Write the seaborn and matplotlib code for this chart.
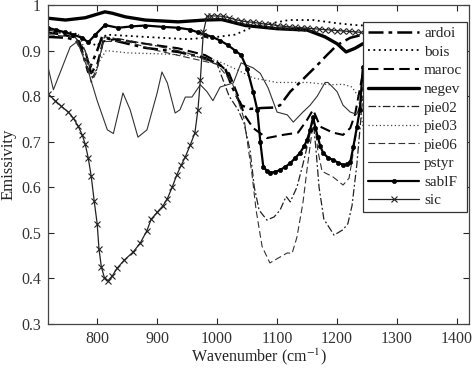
import numpy as np
import pandas as pd
import seaborn as sns
import matplotlib.pyplot as plt

# Spectra (wavenumber in cm-1, emissivity)
ardoi_x = [718, 750, 770, 785, 800, 808, 835, 880, 935, 980, 1013, 1025, 1040, 1055, 1075, 1095, 1105,
           1122, 1138, 1150, 1167, 1183, 1200, 1222, 1243]
ardoi_y = [0.93, 0.928, 0.92, 0.853, 0.90, 0.93, 0.92, 0.906, 0.897, 0.884, 0.862, 0.82, 0.78, 0.772,
           0.774, 0.775, 0.78, 0.81, 0.83, 0.846, 0.868, 0.89, 0.912, 0.928, 0.935]

bois_x = [718, 760, 785, 800, 815, 880, 950, 1000, 1030, 1060, 1090, 1120, 1160, 1200, 1230, 1245]
bois_y = [0.94, 0.94, 0.92, 0.91, 0.935, 0.93, 0.925, 0.93, 0.935, 0.952, 0.96, 0.967, 0.967, 0.96,
          0.956, 0.955]

maroc_x = [718, 760, 780, 790, 800, 810, 830, 880, 935, 980, 1000, 1020, 1035, 1045, 1060, 1083, 1110,
           1135, 1150, 1160, 1172, 1193, 1210, 1222, 1230, 1243]
maroc_y = [0.94, 0.93, 0.90, 0.85, 0.87, 0.92, 0.925, 0.915, 0.905, 0.89, 0.875, 0.85, 0.80, 0.76,
           0.73, 0.708, 0.715, 0.72, 0.748, 0.77, 0.733, 0.72, 0.715, 0.73, 0.76, 0.85]

negev_x = [718, 747, 780, 813, 825, 847, 880, 935, 980, 1008, 1047, 1100, 1150, 1180, 1200, 1215,
           1230, 1243]
negev_y = [0.971, 0.967, 0.972, 0.985, 0.982, 0.974, 0.967, 0.963, 0.967, 0.968, 0.955, 0.948, 0.945,
           0.93, 0.915, 0.897, 0.905, 0.915]

pie02_x = [718, 760, 780, 792, 800, 812, 840, 900, 950, 1000, 1020, 1035, 1045, 1055, 1062, 1070, 1083,
           1095, 1105, 1115, 1122, 1133, 1143, 1152, 1160, 1165, 1170, 1178, 1195, 1210, 1218, 1225,
           1233, 1243]
pie02_y = [0.945, 0.935, 0.90, 0.84, 0.86, 0.93, 0.925, 0.91, 0.895, 0.87, 0.80, 0.77, 0.74, 0.68,
           0.60, 0.55, 0.528, 0.535, 0.55, 0.58, 0.568, 0.60, 0.65, 0.70, 0.75, 0.68, 0.60, 0.53,
           0.495, 0.507, 0.52, 0.56, 0.65, 0.80]

pie03_x = [718, 770, 785, 795, 805, 815, 850, 900, 950, 1000, 1030, 1060, 1100, 1150, 1190, 1210,
           1225, 1235, 1240, 1245]
pie03_y = [0.94, 0.935, 0.88, 0.85, 0.88, 0.90, 0.895, 0.893, 0.89, 0.878, 0.86, 0.84, 0.83, 0.83,
           0.825, 0.826, 0.82, 0.80, 0.76, 0.72]

pie06_x = [718, 760, 782, 790, 798, 810, 850, 900, 950, 1000, 1025, 1045, 1058, 1065, 1075, 1088,
           1105, 1117, 1125, 1133, 1143, 1150, 1158, 1162, 1168, 1175, 1193, 1210, 1220, 1230, 1243]
pie06_y = [0.935, 0.93, 0.88, 0.83, 0.85, 0.92, 0.92, 0.90, 0.885, 0.87, 0.83, 0.75, 0.63, 0.55,
           0.47, 0.434, 0.447, 0.456, 0.455, 0.49, 0.565, 0.64, 0.72, 0.75, 0.68, 0.635, 0.623,
           0.605, 0.62, 0.70, 0.82]

pstyr_x = [718, 727, 755, 767, 783, 800, 817, 827, 843, 855, 868, 883, 900, 908, 917, 930, 938, 947,
           958, 972, 983, 993, 1005, 1027, 1040, 1060, 1072, 1085, 1100, 1117, 1127, 1143, 1155,
           1167, 1180, 1185, 1200, 1210, 1222, 1233, 1243]
pstyr_y = [0.864, 0.814, 0.908, 0.92, 0.864, 0.79, 0.726, 0.718, 0.807, 0.77, 0.71, 0.726, 0.807,
           0.853, 0.829, 0.763, 0.77, 0.798, 0.798, 0.825, 0.81, 0.79, 0.82, 0.829, 0.873, 0.862,
           0.85, 0.818, 0.765, 0.759, 0.743, 0.765, 0.78, 0.80, 0.83, 0.83, 0.81, 0.78, 0.765,
           0.76, 0.80]

sablF_x = [718, 732, 747, 760, 775, 785, 797, 813, 835, 857, 880, 910, 935, 955, 968, 980, 992, 1005,
           1018, 1030, 1040, 1050, 1060, 1067, 1072, 1077, 1083, 1088, 1097, 1105, 1114, 1122, 1130,
           1138, 1145, 1150, 1155, 1160, 1164, 1168, 1172, 1177, 1185, 1193, 1202, 1210, 1216, 1222,
           1227, 1233, 1238, 1243]
sablF_y = [0.950, 0.945, 0.940, 0.935, 0.928, 0.918, 0.935, 0.956, 0.950, 0.953, 0.955, 0.952, 0.950,
           0.946, 0.940, 0.935, 0.930, 0.922, 0.912, 0.90, 0.89, 0.86, 0.81, 0.77, 0.70, 0.645,
           0.636, 0.632, 0.634, 0.638, 0.645, 0.653, 0.664, 0.675, 0.69, 0.704, 0.725, 0.754, 0.73,
           0.71, 0.69, 0.675, 0.665, 0.66, 0.654, 0.649, 0.65, 0.655, 0.688, 0.732, 0.77, 0.864]

sic_x = [718, 730, 740, 752, 760, 768, 775, 780, 785, 790, 795, 800, 803, 807, 812, 818, 825, 833,
         845, 860, 872, 883, 890, 900, 910, 917, 925, 933, 940, 947, 955, 963, 968, 972, 977, 983,
         990, 1000, 1010, 1020, 1030, 1040, 1050, 1060, 1070, 1080, 1090, 1100, 1110, 1120, 1130,
         1140, 1150, 1160, 1170, 1180, 1190, 1200, 1210, 1220, 1230, 1240]
sic_y = [0.805, 0.79, 0.778, 0.765, 0.752, 0.735, 0.715, 0.695, 0.665, 0.625, 0.57, 0.52, 0.465,
         0.425, 0.402, 0.395, 0.405, 0.422, 0.44, 0.458, 0.478, 0.505, 0.53, 0.545, 0.56, 0.575, 0.6,
         0.628, 0.648, 0.667, 0.692, 0.72, 0.77, 0.835, 0.94, 0.975, 0.976, 0.976, 0.975, 0.972,
         0.968, 0.965, 0.963, 0.962, 0.96, 0.958, 0.957, 0.955, 0.953, 0.952, 0.951, 0.95, 0.949,
         0.948, 0.947, 0.946, 0.945, 0.944, 0.943, 0.942, 0.941, 0.940]

series = [
    ("ardoi", ardoi_x, ardoi_y, dict(color="k", lw=1.8, ls=(0, (6, 2, 1.5, 2)))),
    ("bois", bois_x, bois_y, dict(color="k", lw=1.3, ls=(0, (1, 2)))),
    ("maroc", maroc_x, maroc_y, dict(color="k", lw=1.5, ls=(0, (5, 2.5)))),
    ("negev", negev_x, negev_y, dict(color="k", lw=2.4, ls="-")),
    ("pie02", pie02_x, pie02_y, dict(color="#222222", lw=0.9, ls=(0, (6, 2, 1.5, 2)))),
    ("pie03", pie03_x, pie03_y, dict(color="#444444", lw=0.9, ls=(0, (1, 2)))),
    ("pie06", pie06_x, pie06_y, dict(color="#333333", lw=0.8, ls=(0, (6, 3)))),
    ("pstyr", pstyr_x, pstyr_y, dict(color="#333333", lw=0.8, ls="-")),
    ("sablF", sablF_x, sablF_y, dict(color="k", lw=1.6, ls="-", marker="o", ms=3.0)),
    ("sic", sic_x, sic_y, dict(color="#222222", lw=0.9, ls="-", marker="x", ms=4, mew=0.8)),
]

sns.set_style("ticks")
plt.rcParams["font.family"] = ["Liberation Serif", "DejaVu Serif"]
plt.rcParams["mathtext.fontset"] = "stix"

fig = plt.figure(figsize=(4.74, 3.69), dpi=100)
ax = fig.add_axes([48 / 474, 45 / 369, 421 / 474, 319 / 369])

for name, xs, ys, st in series:
    df = pd.DataFrame({"x": xs, "y": ys})
    sns.lineplot(data=df, x="x", y="y", ax=ax, label=name, color=st["color"], linewidth=st["lw"],
                 linestyle=st["ls"], marker=st.get("marker"), markersize=st.get("ms", 0),
                 markeredgewidth=st.get("mew", 0.5), markeredgecolor=st["color"])

ax.set_xlim(718, 1420)
ax.set_ylim(0.3, 1.0)
ax.set_xticks([800, 900, 1000, 1100, 1200, 1300, 1400])
ax.set_yticks([0.3, 0.4, 0.5, 0.6, 0.7, 0.8, 0.9, 1.0])
ax.set_yticklabels(["0.3", "0.4", "0.5", "0.6", "0.7", "0.8", "0.9", "1"])
ax.tick_params(direction="in", top=True, right=True, length=4, width=0.8, labelsize=11.5,
               labelcolor="#333333", pad=5)
for s in ax.spines.values():
    s.set_color("#444444")
    s.set_linewidth(0.9)

ax.set_xlabel("Wavenumber (cm$^{-1}$)", fontsize=11.5, color="#222222", labelpad=0)
ax.set_ylabel("Emissivity", fontsize=12, color="#222222", labelpad=3)

leg = ax.legend(loc="upper right", bbox_to_anchor=(0.995, 0.947), fontsize=11, frameon=True,
                fancybox=False, framealpha=1, edgecolor="#333333", handlelength=3.4,
                labelspacing=0.32, borderpad=0.3, handletextpad=0.3, borderaxespad=0)
leg.get_frame().set_linewidth(0.9)

fig.savefig("out.png", dpi=100)
